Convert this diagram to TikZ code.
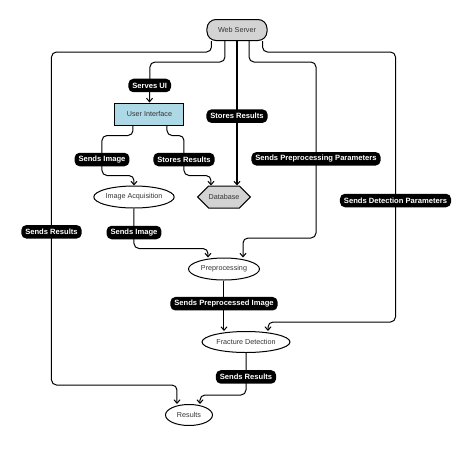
\documentclass[tikz,border=0pt]{standalone}
\usepackage{fontspec}
\setmainfont{Liberation Sans}
\usetikzlibrary{positioning,arrows.meta,shapes.geometric,shapes.symbols}
\definecolor{uiblue}{HTML}{ADD8E6}
\definecolor{boxgray}{HTML}{D3D3D3}
\definecolor{txtgray}{HTML}{333333}

\begin{document}
\begin{tikzpicture}[x=1pt,y=1pt,on grid,>={Straight Barb[length=3.5pt,width=6pt]},
   line width=1pt,rounded corners=5pt,
   every node/.style={font=\fontsize{7.2}{8}\selectfont,text=txtgray,inner sep=0pt},
   server/.style={draw,fill=boxgray,rounded corners=9pt,minimum width=60pt,minimum height=21pt},
   iface/.style={draw,fill=uiblue,rounded corners=0pt,minimum width=69pt,minimum height=22pt},
   proc/.style={draw,ellipse,minimum height=22pt},
   store/.style={draw,fill=boxgray,signal,signal to=east and west,rounded corners=0pt,minimum width=52pt,minimum height=22pt},
   lbl/.style={fill=black,text=white,font=\bfseries\fontsize{7.6}{8}\selectfont,rounded corners=5pt,inner xsep=4pt,minimum height=13.5pt}]
   \useasboundingbox (-237,30) rectangle (237,-418);

   \node[server] (web) {Web Server};
   \node[iface] (ui) [below left=84pt and 87.5pt of web] {User Interface};
   \node[proc,minimum width=78pt] (acq) [below left=83pt and 15.5pt of ui] {Image Acquisition};
   \node[store] (db) [right=90pt of acq] {Database};
   \node[proc,minimum width=71pt] (pre) [below=72pt of db] {Preprocessing};
   \node[proc,minimum width=88pt,minimum height=21pt] (det) [below right=73pt and 22pt of pre] {Fracture Detection};
   \node[proc,minimum width=47pt,minimum height=21pt] (res) [below left=73pt and 57pt of det] {Results};

   \draw[->] ([xshift=-12pt]web.south) -- ++(0,-21) -- ++(-75,0) -- node[lbl,pos=0.58] {Serves UI} (ui.north);
   \draw[->] (web.south) -- node[lbl,pos=0.52] {Stores Results} (web.south |- db.north);
   \draw[->] ([xshift=12pt]web.south) -- ++(0,-21) -- ++(67,0) -- node[lbl,pos=0.55] {Sends Preprocessing Parameters} ++(0,-176) -| ([xshift=19pt]pre.north);
   \draw[->] ([xshift=5pt]web.south west) -- ++(0,-11) -- ++(-160,0) -- node[lbl,pos=0.54] {Sends Results} ++(0,-333) -| ([xshift=-12pt]res.north);
   \draw[->] ([xshift=-5pt]web.south east) -- ++(0,-11) -- ++(133,0) -- node[lbl,pos=0.55] {Sends Detection Parameters} ++(0,-270) -| ([xshift=22pt]det.north);
   \draw[->] ([xshift=-16.5pt]ui.south) -- ++(0,-10) -- ++(-31,0) -- node[lbl,pos=0.6] {Sends Image} ++(0,-40) -| (acq.north);
   \draw[->] ([xshift=17.5pt]ui.south) -- ++(0,-10) -- ++(17,0) -- node[lbl,pos=0.6] {Stores Results} ++(0,-40) -| ([xshift=-13pt]db.north);
   \draw[->] (acq.south) -- node[lbl,pos=0.6] {Sends Image} ++(0,-40) -| ([xshift=-16pt]pre.north);
   \draw[->] (pre.south) -- node[lbl,pos=0.46] {Sends Preprocessed Image} (pre.south |- det.north);
   \draw[->] (det.south) -- node[lbl,pos=0.57] {Sends Results} ++(0,-42) -| ([xshift=11pt]res.north);

\end{tikzpicture}
\end{document}
